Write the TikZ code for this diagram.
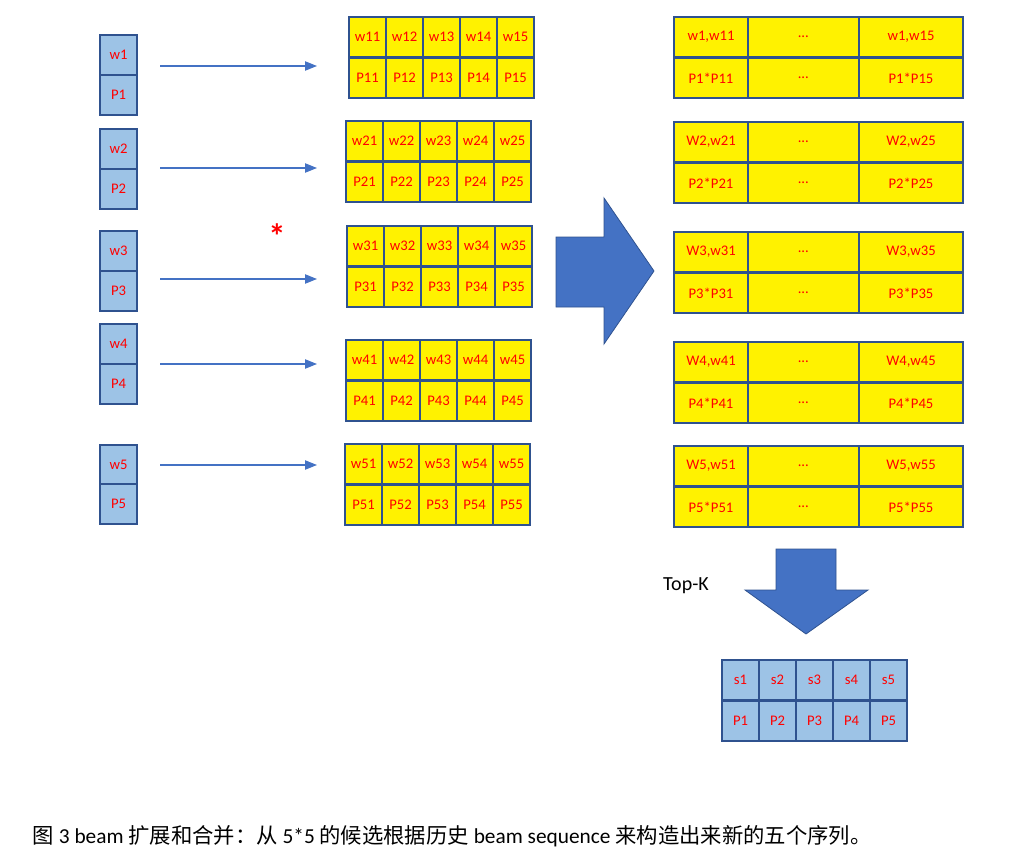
\documentclass[tikz,border=0pt]{standalone}
\usepackage{fontspec}
\setmainfont{Carlito}
\newfontfamily\cjk{Noto Sans CJK SC}
\usetikzlibrary{arrows.meta}
\definecolor{bfill}{HTML}{9DC3E6}
\definecolor{bdraw}{HTML}{2F528F}
\definecolor{abl}{HTML}{4472C4}
\tikzset{
 cell/.style={draw=bdraw,line width=1.5pt,minimum height=30pt,inner sep=0pt,font=\fontsize{11}{11}\selectfont,text=red,anchor=north west},
 bcell/.style={cell,fill=bfill,minimum width=28pt},
 ycell/.style={cell,fill=yellow,minimum width=27.75pt},
 conn/.style={abl,line width=0.8pt,-{Triangle[length=9pt,width=7pt]}}
}
\begin{document}
\begin{tikzpicture}[x=0.75pt,y=-0.75pt]
\useasboundingbox (0,0) rectangle (1020,863);
% left column
\foreach \i/\yw/\yp in {1/34/74,2/128/168,3/230/270,4/323/363,5/444/483}{
 \node[bcell] (w\i) at (99,\yw) {w\i};
 \node[bcell] (p\i) at (99,\yp) {P\i};
}
% middle grids
\foreach \i/\x/\y in {1/348/16,2/345/120,3/346/225,4/345/339,5/344/443}{
 \foreach \j in {1,...,5}{
  \node[ycell] (m\i w\j) at ({\x+37*(\j-1)},\y) {w\i\j};
  \node[ycell] (m\i p\j) at ({\x+37*(\j-1)},\y+41) {P\i\j};
 }
 \coordinate (mt\i) at (\x-32,\y+50);
}
\foreach \i/\y in {1/66,2/168,3/279,4/364,5/465}{
 \coordinate (as\i) at (160,\y);
 \coordinate (ae\i) at (317,\y);
 \draw[conn] (as\i) -- (ae\i);
}
\node[text=red,font=\fontsize{26}{26}\selectfont\bfseries] (star) at (277,236) {*};
% right grids
\foreach \i/\y/\W in {1/16/w,2/121/W,3/231/W,4/341/W,5/445/W}{
 \node[ycell,minimum width=55.5pt] (r\i a) at (673,\y) {\W\i,w\i1};
 \node[ycell,minimum width=83pt] (r\i b) at (747,\y) {...};
 \node[ycell,minimum width=78pt] (r\i c) at (858,\y) {\W\i,w\i5};
 \node[ycell,minimum width=55.5pt] (r\i d) at (673,\y+41) {P\i*P\i1};
 \node[ycell,minimum width=83pt] (r\i e) at (747,\y+41) {...};
 \node[ycell,minimum width=78pt] (r\i f) at (858,\y+41) {P\i*P\i5};
}
% big arrows
\fill[abl,draw=bdraw,line width=0.6pt] (556,237) -- (604,237) -- (604,198) -- (654,271) -- (604,344) -- (604,307) -- (556,307) -- cycle;
\fill[abl,draw=bdraw,line width=0.6pt] (776,549) -- (836,549) -- (836,590) -- (868,590) -- (806,634) -- (745,590) -- (776,590) -- cycle;
\node[font=\fontsize{15}{15}\selectfont] (topk) at (686,586) {Top-K};
% bottom
\foreach \j in {1,...,5}{
 \node[bcell,minimum width=27.75pt] (s\j) at ({721+37*(\j-1)},659) {s\j};
 \node[bcell,minimum width=27.75pt] (q\j) at ({721+37*(\j-1)},700) {P\j};
}
\node[anchor=west,font=\fontsize{16}{16}\selectfont] (cap) at (28,836) {{\cjk 图} 3 beam {\cjk 扩展和合并：从} 5*5 {\cjk 的候选根据历史} beam sequence {\cjk 来构造出来新的五个序列。}};
\end{tikzpicture}
\end{document}
